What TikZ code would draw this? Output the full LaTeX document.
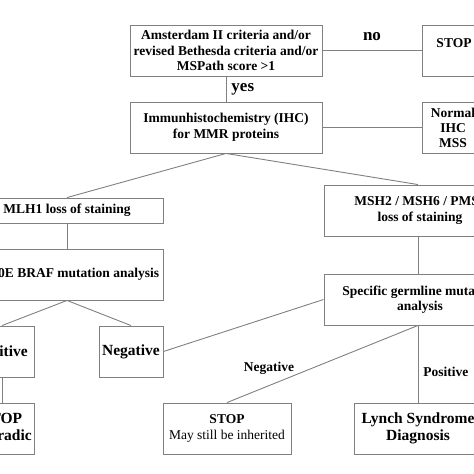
\documentclass[tikz,border=0pt]{standalone}
\usepackage{fontspec}
\setmainfont{Liberation Serif}
\usetikzlibrary{positioning}
\definecolor{boxgray}{RGB}{128,128,128}

\begin{document}
\begin{tikzpicture}[x=1pt,y=-1pt,line width=0.9pt]
\tikzset{box/.style={draw=boxgray, rectangle, align=center, inner sep=2pt,
    font=\fontsize{13.5}{15.5}\selectfont\bfseries},
  bigbox/.style={box, font=\fontsize{15.5}{17}\selectfont\bfseries},
  lbl/.style={inner sep=2pt, font=\fontsize{13.5}{15}\selectfont\bfseries},
  biglbl/.style={inner sep=2pt, font=\fontsize{17}{18}\selectfont\bfseries}}
\useasboundingbox (0,0) rectangle (474,474);
\clip (0,0) rectangle (474,474);
\node[box, minimum width=192pt, minimum height=51pt] (amst) at (226,50.5) {Amsterdam II criteria and/or\\revised Bethesda criteria and/or\\MSPath score >1};
\node[box, minimum width=64pt, minimum height=51pt] (stop1) at (454,50.5) {STOP\\\mbox{}};
\node[box, minimum width=192pt, minimum height=51pt] (ihc) at (226,127.5) {Immunhistochemistry (IHC)\\for MMR proteins};
\node[box, minimum width=62pt, minimum height=51pt, font=\fontsize{13.5}{15}\selectfont\bfseries] (normal) at (453,127.5) {Normal\\IHC\\MSS};
\node[box, minimum width=192pt, minimum height=25pt] (mlh1) at (67,210.5) {MLH1 loss of staining};
\node[box, minimum width=192pt, minimum height=51pt] (braf) at (67,274.5) {V600E BRAF mutation analysis};
\node[bigbox, minimum width=64pt, minimum height=51pt] (pos) at (2,351.5) {Positive};
\node[bigbox, minimum width=64pt, minimum height=51pt] (neg) at (131,351.5) {Negative};
\node[bigbox, minimum width=64pt, minimum height=51pt] (sporadic) at (2,428.5) {STOP\\Sporadic};
\node[box, minimum width=192pt, minimum height=51pt] (msh2) at (420,210.5) {MSH2 / MSH6 / PMS2\\loss of staining};
\node[box, minimum width=192pt, minimum height=51pt] (germ) at (420,299.5) {Specific germline mutation\\analysis};
\node[box, minimum width=128pt, minimum height=51pt] (stop2) at (227,428.5) {STOP\\{\mdseries May still be inherited}};
\node[bigbox, minimum width=128pt, minimum height=51pt] (lynch) at (418,428.5) {Lynch Syndrome\\Diagnosis};
\path[draw=boxgray] (amst) edge node[biglbl, above=7pt] {no} (stop1);
\path[draw=boxgray] (amst) edge node[biglbl, right=3pt] {yes} (ihc);
\path[draw=boxgray] (ihc) edge (normal);
\path[draw=boxgray] (ihc.south) edge (mlh1.north);
\path[draw=boxgray] (ihc.south) edge ([xshift=-2pt]msh2.north);
\path[draw=boxgray] (mlh1) edge (braf);
\path[draw=boxgray] (braf.south) edge (pos.north);
\path[draw=boxgray] (braf.south) edge (neg.north);
\path[draw=boxgray] (pos) edge (sporadic);
\path[draw=boxgray] (neg.east) edge (germ.west);
\path[draw=boxgray] ([xshift=-2pt]msh2.south) edge ([xshift=-2pt]germ.north);
\path[draw=boxgray] ([xshift=-2pt]germ.south) edge node[lbl, pos=0.78, above=9pt] {Negative} (stop2.north);
\path[draw=boxgray] ([xshift=-2pt]germ.south) edge node[lbl, pos=0.6, right=3pt] {Positive} (lynch.north);
\end{tikzpicture}
\end{document}
